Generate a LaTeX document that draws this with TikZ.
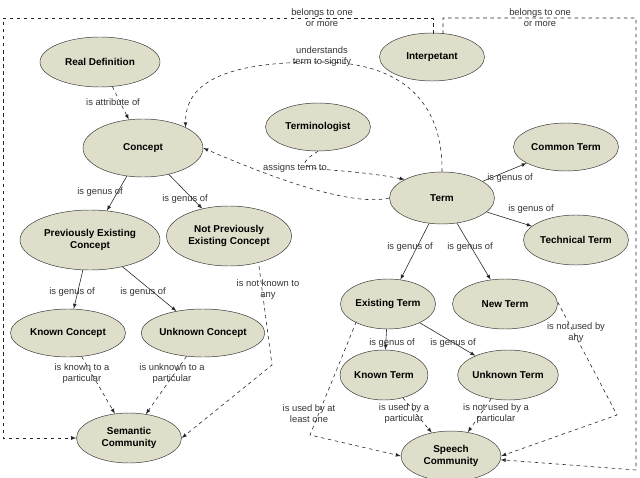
\documentclass[tikz,border=0pt]{standalone}
\usepackage{fontspec}
\setmainfont{Liberation Sans}
\usetikzlibrary{shapes,arrows,positioning}
\definecolor{olive}{RGB}{222,222,202}
\begin{document}
\begin{tikzpicture}[
    x=0.03cm, y=-0.03cm,
    idea/.style={
        ellipse,
        draw=black!80,
        fill=olive,
        inner sep=0pt,
        align=center,
        font=\fontsize{8.5}{10}\selectfont\bfseries
    },
    lbl/.style={
        align=center,
        font=\fontsize{8}{9.5}\selectfont,
        text=black!80
    },
    arrow/.style={
        ->,
        >=latex,
        draw=black!85,
        line width=0.5pt
    },
    link/.style={
        arrow,
        dashed
    }
]
\useasboundingbox (0,0) rectangle (640,478);

% Concepts side
\node[idea, minimum width=120*0.03cm, minimum height=50*0.03cm] (realdef) at (100,62) {Real Definition};
\node[idea, minimum width=120*0.03cm, minimum height=58*0.03cm] (concept) at (143,148) {Concept};
\node[idea, minimum width=140*0.03cm, minimum height=60*0.03cm] (prevconcept) at (90,240) {Previously Existing\\Concept};
\node[idea, minimum width=125*0.03cm, minimum height=60*0.03cm] (newconcept) at (229,236) {Not Previously\\Existing Concept};
\node[idea, minimum width=115*0.03cm, minimum height=48*0.03cm] (knownconcept) at (68,333) {Known Concept};
\node[idea, minimum width=115*0.03cm, minimum height=48*0.03cm] (unknownconcept) at (203,333) {Unknown Concept};
\node[idea, minimum width=105*0.03cm, minimum height=50*0.03cm] (semantic) at (129,438) {Semantic\\Community};

% Terms side
\node[idea, minimum width=105*0.03cm, minimum height=48*0.03cm] (interp) at (432,57) {Interpetant};
\node[idea, minimum width=105*0.03cm, minimum height=48*0.03cm] (terminologist) at (318,127) {Terminologist};
\node[idea, minimum width=105*0.03cm, minimum height=48*0.03cm] (common) at (566,147) {Common Term};
\node[idea, minimum width=105*0.03cm, minimum height=52*0.03cm] (term) at (442,198) {Term};
\node[idea, minimum width=105*0.03cm, minimum height=50*0.03cm] (technical) at (576,240) {Technical Term};
\node[idea, minimum width=95*0.03cm, minimum height=50*0.03cm] (existing) at (388,304) {Existing Term};
\node[idea, minimum width=105*0.03cm, minimum height=50*0.03cm] (newterm) at (505,304) {New Term};
\node[idea, minimum width=88*0.03cm, minimum height=50*0.03cm] (knownterm) at (384,375) {Known Term};
\node[idea, minimum width=95*0.03cm, minimum height=50*0.03cm] (unknownterm) at (508,375) {Unknown Term};
\node[idea, minimum width=100*0.03cm, minimum height=50*0.03cm] (speech) at (451,456) {Speech\\Community};

% Helper points
\coordinate (leftin) at (433,34);
\coordinate (rightin) at (443,34);

% Outer loops
\draw[link] (leftin) -- (433,18) -- (3,18) -- (3,438) -- (semantic);
\draw[link] (rightin) -- (443,18) -- (636,18) -- (636,470) -- (speech);
\node[lbl] at (322,18) {belongs to one\\or more};
\node[lbl] at (540,18) {belongs to one\\or more};

% Concept links
\draw[link] (realdef) -- (concept);
\draw[arrow] (concept) -- (prevconcept);
\draw[arrow] (concept) -- (newconcept);
\draw[arrow] (prevconcept) -- (knownconcept);
\draw[arrow] (prevconcept) -- (unknownconcept);
\draw[link] (knownconcept) -- (semantic);
\draw[link] (unknownconcept) -- (semantic);
\draw[link] (newconcept.south) ++(30,0) -- (272,365) -- (semantic.east);
\node[lbl] at (113,102) {is attribute of};
\node[lbl] at (100,192) {is genus of};
\node[lbl] at (185,199) {is genus of};
\node[lbl] at (72,292) {is genus of};
\node[lbl] at (143,292) {is genus of};
\node[lbl] at (82,374) {is known to a\\particular};
\node[lbl] at (172,374) {is unknown to a\\particular};
\node[lbl] at (268,290) {is not known to\\any};

% Term links
\draw[link] (term.north) .. controls (443,110) and (410,62) .. (320,62)
    .. controls (230,62) and (185,80) .. (concept.north east);
\draw[link] (term.west) .. controls (360,205) and (300,190) .. (concept.east);
\draw[link] (terminologist.south) .. controls (280,175) and (330,165) .. (term.north west);
\draw[arrow] (term) -- (common);
\draw[arrow] (term) -- (technical);
\draw[arrow] (term) -- (existing);
\draw[arrow] (term) -- (newterm);
\draw[arrow] (existing) -- (knownterm);
\draw[arrow] (existing) -- (unknownterm);
\draw[link] (knownterm) -- (speech);
\draw[link] (unknownterm) -- (speech);
\draw[link] (existing.south west) ++(2,0) -- (310,435) -- (speech.west);
\draw[link] (newterm.east) ++(0,-2) -- (617,415) -- (speech.east);
\node[lbl] at (322,57) {understands\\term to signify};
\node[lbl] at (295,168) {assigns term to};
\node[lbl] at (510,178) {is genus of};
\node[lbl] at (531,209) {is genus of};
\node[lbl] at (410,247) {is genus of};
\node[lbl] at (470,247) {is genus of};
\node[lbl] at (392,343) {is genus of};
\node[lbl] at (453,343) {is genus of};
\node[lbl] at (404,414) {is used by a\\particular};
\node[lbl] at (496,414) {is not used by a\\particular};
\node[lbl] at (309,414) {is used by at\\least one};
\node[lbl] at (576,333) {is not used by\\any};
\end{tikzpicture}
\end{document}
